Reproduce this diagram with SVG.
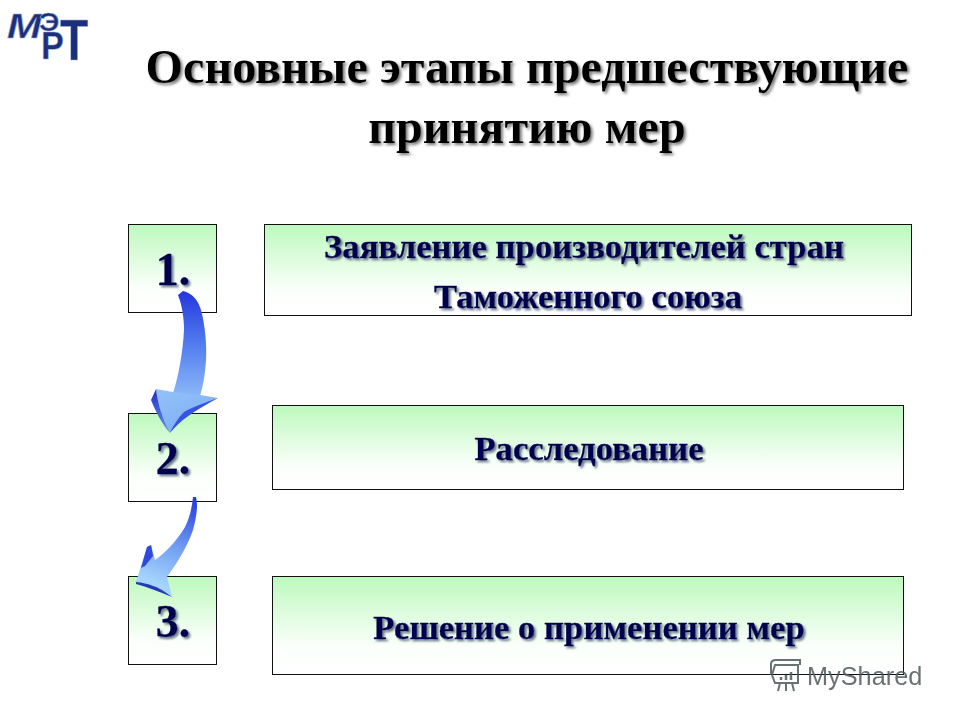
<svg xmlns="http://www.w3.org/2000/svg" width="960" height="720" viewBox="0 0 960 720">
<style>
.box{fill:url(#g);stroke:#111;stroke-width:1}
.t{font-family:"Liberation Serif",serif;font-weight:bold;text-anchor:middle}
.title{fill:#000;font-size:48.200px;filter:url(#s1)}
.lbl{fill:#000050;stroke:#000050;stroke-width:.4;font-size:34.700px;filter:url(#s2)}
.num{fill:#000050;stroke:#000050;stroke-width:.4;font-size:46px;filter:url(#s2)}
.logo{font-family:"Liberation Sans",sans-serif;font-weight:bold;fill:#1c2f7c;stroke:#9fb0d8;stroke-width:.6}
</style>
<defs>
<linearGradient id="g" x1="0" y1="0" x2="0" y2="1"><stop offset="0" stop-color="#bdf9bd"/><stop offset=".72" stop-color="#fbfffb"/><stop offset="1" stop-color="#fff"/></linearGradient>
<linearGradient id="a1" gradientUnits="userSpaceOnUse" x1="185" y1="292" x2="185" y2="400"><stop offset="0" stop-color="#2438dc"/><stop offset=".45" stop-color="#4f78ee"/><stop offset="1" stop-color="#8fbcf8"/></linearGradient>
<linearGradient id="h1" gradientUnits="userSpaceOnUse" x1="165" y1="390" x2="185" y2="432"><stop offset="0" stop-color="#92c0f8"/><stop offset="1" stop-color="#7fb0f5"/></linearGradient>
<linearGradient id="a2" gradientUnits="userSpaceOnUse" x1="195" y1="497" x2="160" y2="585"><stop offset="0" stop-color="#2438dc"/><stop offset=".55" stop-color="#6f9cf2"/><stop offset="1" stop-color="#a5d4fc"/></linearGradient>
<linearGradient id="w" gradientUnits="userSpaceOnUse" x1="156" y1="390" x2="165" y2="430"><stop offset="0" stop-color="#2233c8"/><stop offset="1" stop-color="#5f8cf0"/></linearGradient>
<filter id="s1" x="-5%" y="-20%" width="110%" height="140%"><feDropShadow dx="2" dy="2" stdDeviation="1.500" flood-color="#777"/></filter>
<filter id="s2" x="-5%" y="-20%" width="110%" height="140%"><feDropShadow dx="2" dy="2" stdDeviation="1" flood-color="#6a7a90"/></filter>
</defs>
<rect width="960" height="720" fill="#fff"/>
<g id="logo">
<text class="logo" transform="translate(7 38) scale(1.15 1)" font-size="36" font-style="italic">М</text>
<text class="logo" transform="translate(39 31) scale(1.1 1)" font-size="26">Э</text>
<text class="logo" transform="translate(41 59) scale(.9 1)" font-size="38">Р</text>
<text class="logo" transform="translate(60 60) scale(.8 1)" font-size="58">Т</text>
</g>
<g id="title">
<text class="t title" x="527" y="83">Основные этапы предшествующие</text>
<text class="t title" x="527" y="143">принятию мер</text>
</g>
<g id="n1"><rect class="box" x="128.500" y="224.500" width="88" height="88"/><text class="t num" x="173" y="285">1.</text></g>
<g id="n2"><rect class="box" x="128.500" y="413.500" width="88" height="88"/><text class="t num" x="173" y="474">2.</text></g>
<g id="n3"><rect class="box" x="128.500" y="576.500" width="88" height="88"/><text class="t num" x="173" y="637">3.</text></g>
<g id="s1n"><rect class="box" x="264.500" y="224.500" width="647" height="91"/>
<text class="t lbl" x="584" y="258">Заявление производителей стран</text>
<text class="t lbl" x="588" y="308">Таможенного союза</text></g>
<g id="s2n"><rect class="box" x="272.500" y="405.500" width="631" height="84"/><text class="t lbl" x="589" y="460">Расследование</text></g>
<g id="s3n"><rect class="box" x="272.500" y="576.500" width="631" height="98"/><text class="t lbl" x="589" y="639">Решение о применении мер</text></g>
<g id="connectors">
<path d="M178 295L183 291C192 293 198 300 201 310C205 325 207 345 206 360C205 375 203 386 200 396L173 393C179 375 183 350 184 330C184 318 182 305 178 295Z" fill="url(#a1)"/>
<path d="M156 389L173 392L200 395L218 398C205 405 195 410 186 416C180 421 174 427 170 433C163 422 158 405 156 389Z" fill="url(#h1)"/>
<path d="M151 400L156 389C158 405 163 420 170 433C162 424 156 412 151 400Z" fill="url(#w)"/>
<path d="M218 398C205 403 192 407 184 412C178 418 173 426 170 433C175 427 181 421 187 417C196 410 207 404 218 398Z" fill="#3654e2"/>
<path d="M193 497L196 497C198 505 197 515 193 530C188 545 178 562 167 577C169 585 171 591 172 597C160 590 148 584 136 582L147 547L151 545L155 560C165 553 176 542 185 527C190 517 192 507 193 497Z" fill="url(#a2)"/>
<path d="M147 547L151 545L153 556L145 566L141 568Z" fill="#3048dc"/>
<path d="M136 582C148 583 160 588 165 592L172 597C160 592 147 587 136 584Z" fill="#2438b8"/>
</g>
<g id="watermark" opacity=".85">
<g fill="none" stroke="#4f5a5a" stroke-width="2"><path d="M771 675V664Q771 660 776 660H800V665"/><path d="M772 675L775 665H798V683H775ZM780 683L778 691M786 683V691M792 683L794 691"/><path d="M781 680V677M786 680V675M791 680V672" stroke-width="2.500"/></g>
<text x="807" y="685" font-family="Liberation Sans,sans-serif" font-size="25.300" fill="#4f5a5a">MyShared</text>
</g>
</svg>
